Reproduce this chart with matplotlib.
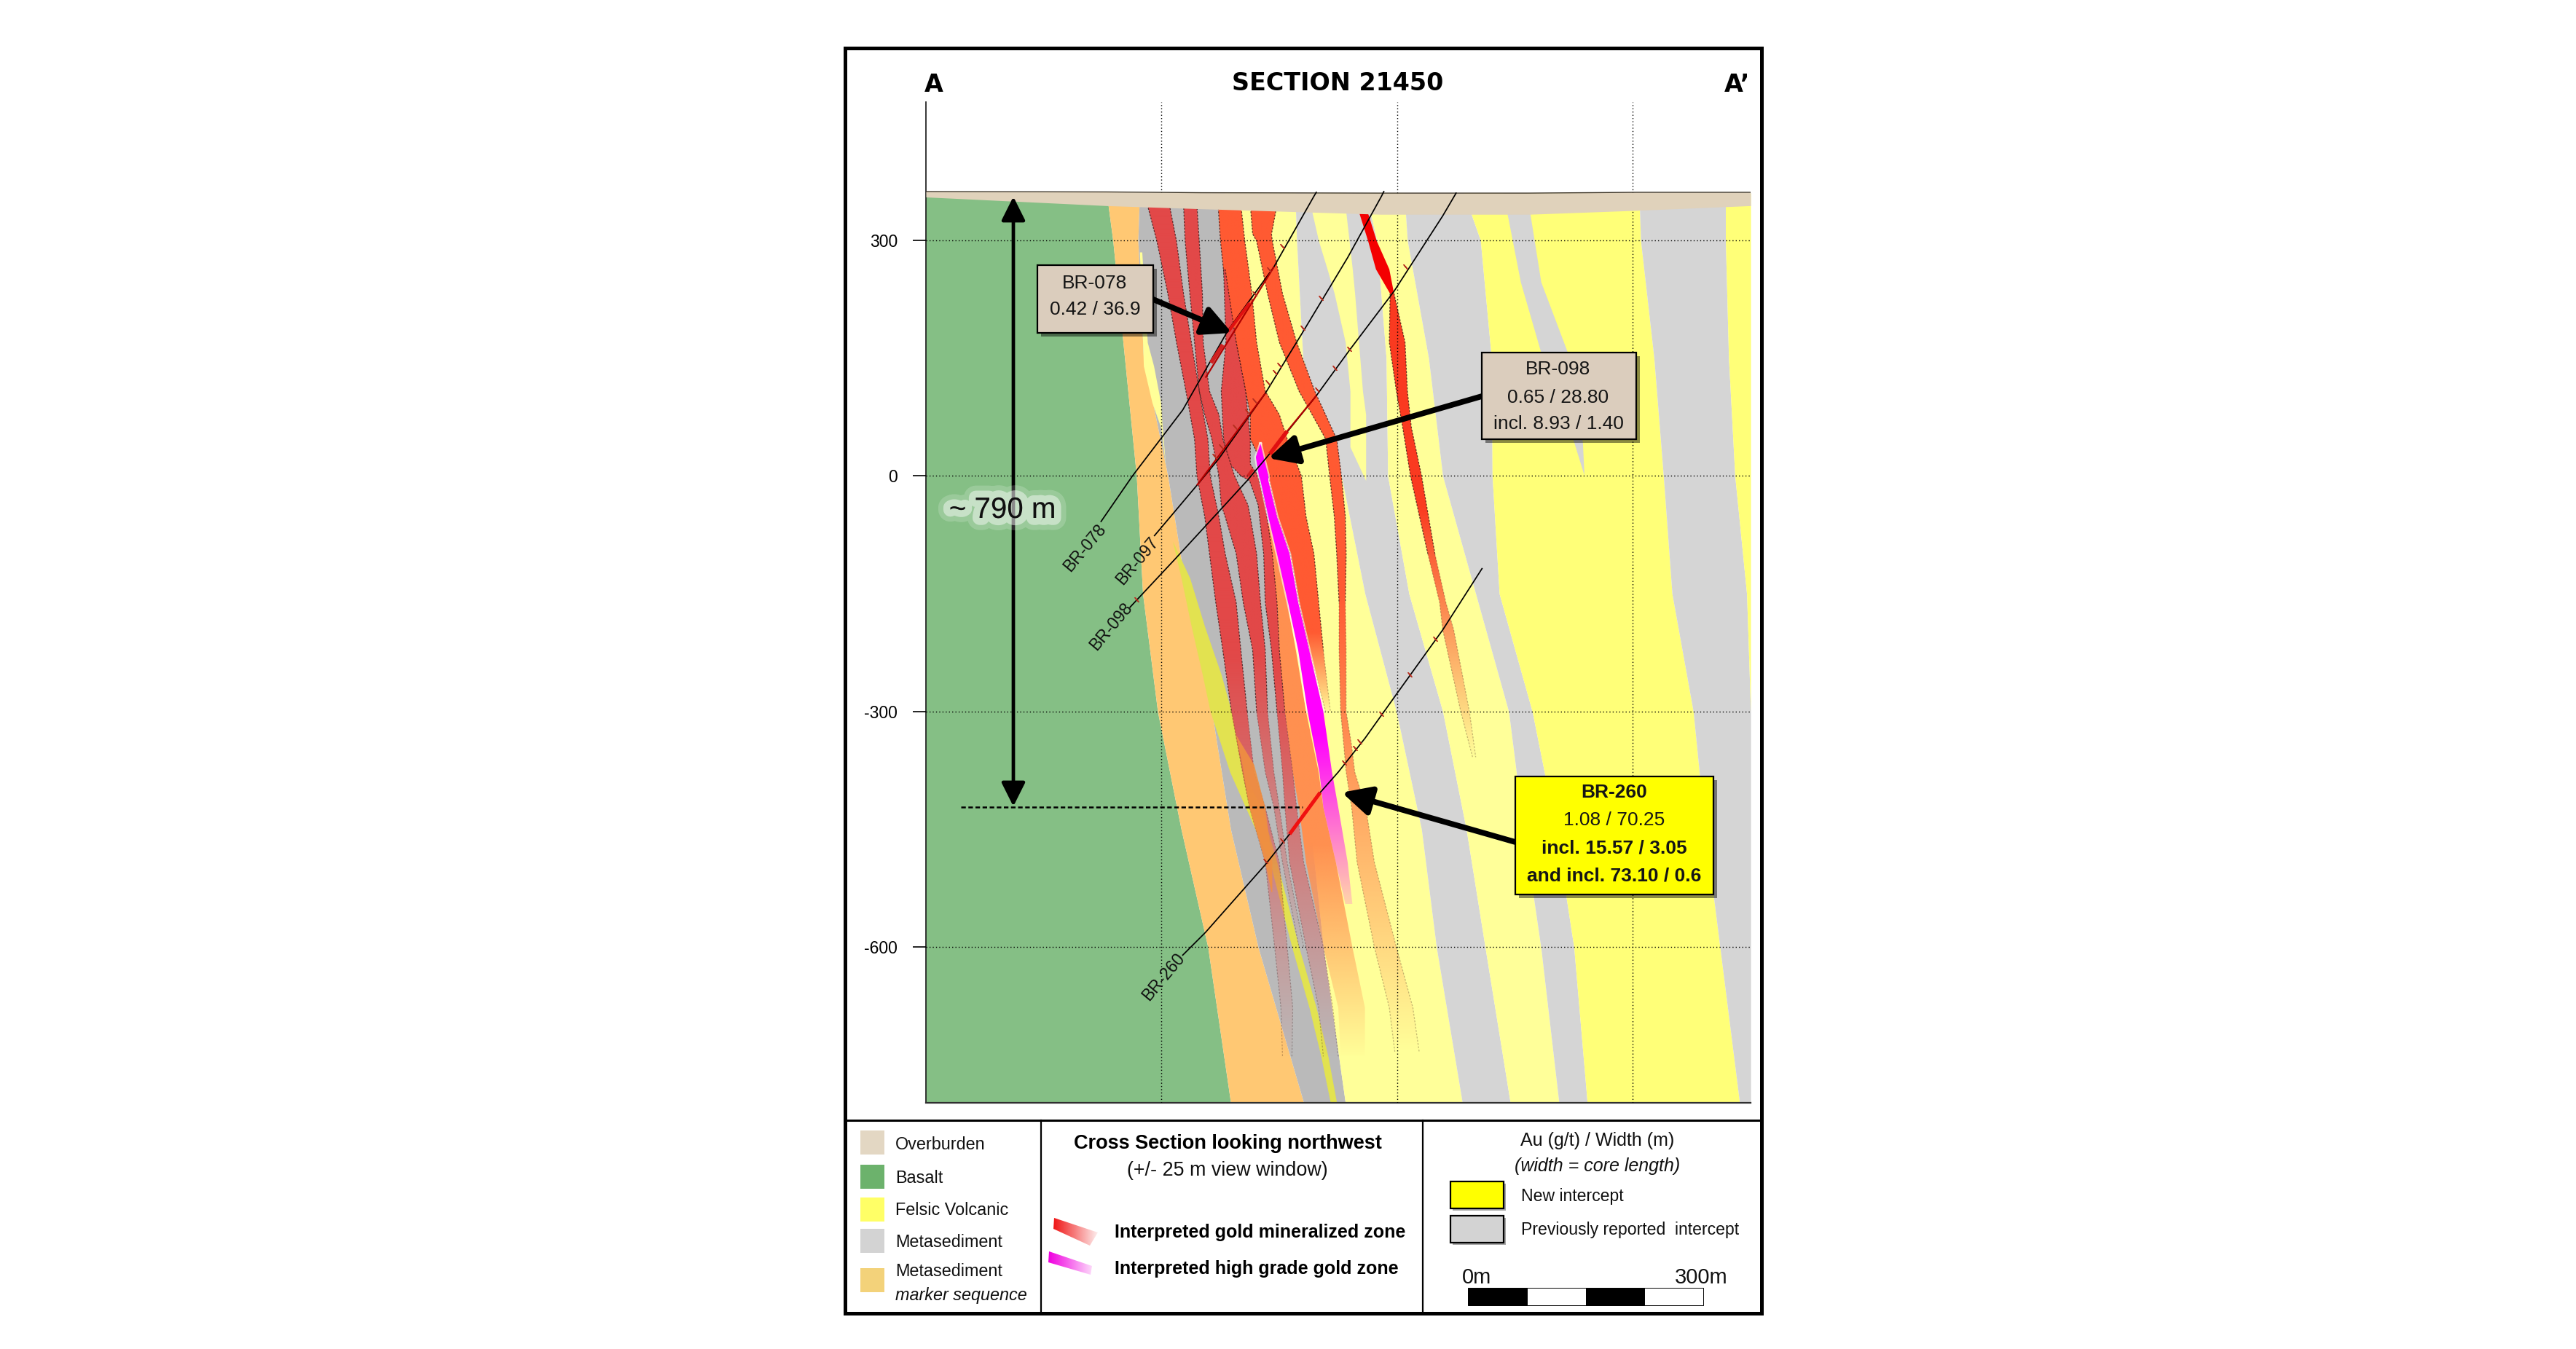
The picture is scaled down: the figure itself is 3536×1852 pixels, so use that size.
#!/usr/bin/env python3
# cross section 21450, geology bands drawn from depth levels, legend panel below
import numpy as np
import matplotlib
matplotlib.use('Agg')
import matplotlib.pyplot as plt
import matplotlib.colors as mcolors
import matplotlib.patheffects as pe
from matplotlib.patches import Polygon, Rectangle

plt.rcParams['font.family'] = ['Liberation Sans', 'DejaVu Sans']

W, H = 3537, 1852

# ---- strata, x (m along section) of each contact at these elevations
levels = [360, 300, 150, 0, -150, -300, -450, -600, -798]
basalt_right = [230, 238, 253, 268, 276, 295, 325, 359, 388]
marker_right = [272, 270, 277, 308, 332, 364, 388, 423, 481]
pale_left = [380, 400, 410, 430, 460, 470, 490, 506, 534]
pale_right = [470, 472, 480, 529, 559, 599, 631, 650, 683]
pale2_left = [560, 574, 586, 588, 615, 658, 688, 712, 744]
pale2_right = [609, 613, 640, 658, 700, 742, 761, 783, 806]
felsic_left = [685, 706, 720, 721, 730, 772, 802, 825, 842]
felsic_right = [908, 910, 927, 939, 950, 977, 992, 1011, 1036]
edge_left = [1018, 1018, 1022, 1030, 1045, 1050, 1050, 1050, 1050]

# small pale strip against the marker sequence
strip_y = [285, 170, 140, 93, 62, 15]
strip_l = [272, 276, 277, 288, 299, 305]
strip_r = [275, 282, 290, 299, 301, 305]

# pale wedge near surface
wedge_y = [360, 334, 299, 263, 232, 170, 108, 78, 37, -6]
wedge_l = [488, 492, 500, 511, 520, 534, 540, 540, 540, 560]
wedge_r = [533, 535, 539, 543, 546, 551, 556, 560, 560, 560]

# metasediment wedge inside the felsic
meta_y = [360, 247, 157, 43, 1]
meta_l = [735, 757, 783, 825, 838]
meta_r = [765, 783, 817, 836, 838]

# olive felsic strip
olive_y = [-83, -130, -192, -253, -300, -377, -422, -492, -600, -677, -739, -798]
olive_l = [314, 325, 338, 352, 362, 387, 407, 438, 466, 488, 503, 515]
olive_r = [314, 336, 355, 376, 389, 404, 427, 447, 475, 497, 512, 523]

# overburden
over_x = [0, 230, 351, 579, 768, 905, 1050]
over_top = [362, 361.5, 360.5, 360, 360, 361, 361]
over_bot = [355, 344, 340, 333, 333, 338, 344]

# ---- mineralized zones
zone_a_y = [345, 299, 232, 170, 108, 47, 0, -52, -99, -161, -222, -300, -377, -422, -492, -600, -677, -739]
zone_a_l = [282, 294, 308, 319, 331, 342, 345, 355, 361, 369, 378, 389, 403, 412, 432, 444, 452, 454]
zone_a_r = [310, 319, 328, 338, 348, 359, 362, 373, 381, 395, 401, 409, 418, 432, 450, 460, 467, 466]

zone_a2_y = [-330, -368, -422, -492, -530]
zone_a2_l = [395, 403, 412, 432, 440]
zone_a2_r = [395, 418, 432, 441, 441]

zone_b_y = [345, 299, 232, 170, 108, 78, 47, 0, -37, -52, -99, -161, -222, -300, -377, -422, -492, -600]
zone_b_l = [328, 330, 336, 342, 348, 355, 364, 373, 376, 381, 395, 404, 416, 421, 432, 443, 454, 475]
zone_b_r = [345, 348, 352, 353, 361, 373, 378, 393, 410, 413, 421, 426, 432, 435, 443, 450, 460, 481]

zone_c_y = [345, 299, 232, 170, 108, 78, 47, 0, -52, -99, -161, -222, -300]
zone_c_l = [372, 375, 382, 395, 407, 413, 413, 436, 447, 464, 475, 488, 509]
zone_c_r = [401, 406, 415, 421, 432, 450, 460, 478, 484, 494, 500, 506, 515]

zone_d_y = [263, 170, 108, 47, 15, 0, -6, -37, -99, -161, -222, -300, -377, -422, -492, -600, -677, -739]
zone_d_l = [379, 382, 376, 379, 387, 401, 412, 423, 430, 432, 440, 447, 454, 457, 463, 484, 500, 506]
zone_d_r = [381, 395, 407, 413, 413, 423, 424, 432, 441, 447, 450, 457, 467, 472, 481, 506, 518, 525]

zone_e_y = [-60, -99, -161, -222, -300, -377, -422, -492, -600, -677, -739]
zone_e_l = [432, 438, 447, 450, 457, 467, 475, 484, 506, 525, 528]
zone_e_r = [438, 450, 460, 471, 484, 500, 506, 522, 543, 559, 559]

zone_f_y = [345, 308, 299, 232, 170, 108, 47, 0, -52, -99, -161, -222, -300, -343, -377, -422, -492, -600, -677, -733]
zone_f_l = [413, 416, 421, 435, 450, 475, 509, 514, 520, 523, 526, 526, 528, 532, 535, 542, 549, 571, 590, 597]
zone_f_r = [447, 440, 441, 454, 472, 495, 523, 529, 534, 535, 534, 535, 535, 542, 546, 560, 571, 599, 620, 628]

zone_g1_y = [334, 299, 263, 232]
zone_g1_l = [552, 563, 573, 591]
zone_g1_r = [563, 574, 590, 596]

zone_g2_y = [232, 170, 108, 62, 0, -99, -161, -196, -300, -358]
zone_g2_l = [591, 590, 599, 607, 617, 639, 654, 658, 681, 696]
zone_g2_r = [596, 610, 613, 618, 631, 648, 662, 672, 692, 700]

zone_m_y = [41, 24, 0, -6, -52, -99, -161, -222, -300, -377, -422, -492, -545]
zone_m_l = [426, 420, 424, 426, 436, 447, 461, 474, 486, 501, 506, 522, 534]
zone_m_r = [426, 430, 436, 436, 447, 463, 474, 488, 506, 517, 525, 537, 543]

# ---- drill holes
br078_x = [497, 494, 443, 385, 327, 263, 223]
br078_y = [361, 356, 266, 186, 84, 0, -58]
br097_x = [583, 580, 537, 478, 432, 373, 345, 291]
br097_y = [362, 356, 278, 180, 105, 22, -12, -76]
br098_x = [675, 658, 596, 540, 497, 435, 409, 376, 318, 260]
br098_y = [360, 331, 235, 161, 102, 25, -6, -42, -105, -167]
br260_x = [708, 658, 599, 559, 525, 502, 463, 432, 356, 327]
br260_y = [-118, -196, -278, -334, -377, -403, -456, -495, -581, -610]

tick_x = [454, 437, 418, 503, 480, 539, 520, 498, 610, 450, 444, 435, 418, 409, 393, 376, 367,
          268, 580, 616, 648, 552, 546, 532, 454, 432]
tick_y = [292, 263, 232, 227, 189, 162, 138, 110, 266, 141, 132, 119, 96, 82, 62, 37, 25,
          -157, -303, -253, -207, -338, -346, -365, -464, -490]

# (x0, y0, x1, y1, colour, width)
intercepts = [
    (443, 266, 356, 125, '#B00000', 1.6),
    (432, 105, 345, -12, '#B00000', 1.6),
    (497, 102, 460, 57, '#B00000', 1.6),
    (412, 220, 385, 184, '#E01010', 3.2),
    (378, 167, 363, 144, '#D02020', 4),
    (460, 57, 438, 28, '#E01010', 4),
    (416, 8, 410, 0, '#D02020', 3),
    (502, -403, 463, -456, '#F01010', 3.6),
]

section_ticks = [300, 0, -300, -600]
section_grid_x = [300, 600, 900]

# ---- legend
legend_names = ['Overburden', 'Basalt', 'Felsic Volcanic', 'Metasediment', 'Metasediment']
legend_cols = ['#E3D7C3', '#6CB26C', '#FFFF66', '#D3D3D3', '#F3D27A']
legend_top = [1552, 1599, 1644, 1687, 1741]
legend_text_y = [1572, 1617, 1661, 1706, 1745]

C_GREEN = '#85BF85'
C_ORANGE = '#FFC873'
C_DGREY = '#BABABA'
C_LGREY = '#D5D5D5'
C_PALE = '#FFFF99'
C_YELLOW = '#FFFF78'
C_RED = '#E24848'
C_ORED = '#FF5A32'


def fade_patch(ax, verts, colour, coord, full, none, alpha_max=1.0, z=3):
    """gradient filled polygon, opaque at coord=full and gone at coord=none"""
    xl, yl = ax.get_xlim(), ax.get_ylim()
    verts = np.array(verts)
    x0, x1 = verts[:, 0].min(), verts[:, 0].max()
    y0, y1 = verts[:, 1].min(), verts[:, 1].max()
    n = 400
    rgba = np.zeros((n, n, 4))
    rgba[..., :3] = mcolors.to_rgb(colour)
    if coord == 'y':
        v = np.linspace(y0, y1, n)[:, None]
    else:
        v = np.linspace(x0, x1, n)[None, :]
    rgba[..., 3] = np.clip((v - none) / (full - none), 0, 1) * alpha_max
    im = ax.imshow(rgba, extent=(x0, x1, y0, y1), origin='lower', aspect='auto',
                   zorder=z, interpolation='bilinear')
    im.set_clip_path(Polygon(verts, closed=True, transform=ax.transData))
    ax.set_xlim(xl)
    ax.set_ylim(yl)


def zone(ax, y, left, right, colour, full=None, none=None, alpha_max=1.0, z=3, outline=True):
    verts = list(zip(left, y)) + list(zip(right[::-1], y[::-1]))
    if full is None:
        ax.add_patch(Polygon(verts, closed=True, fc=colour, ec='none', alpha=alpha_max, zorder=z))
    else:
        fade_patch(ax, verts, colour, 'y', full, none, alpha_max, z)
    if outline:
        # dashes go faint where the fill starts to fade
        k = len(y) if full is None else sum(v >= full for v in y)
        dash = dict(color='#301010', lw=0.9, ls=(0, (2, 1.6)), zorder=z + 0.1)
        for edge in (left, right):
            ax.plot(edge[:k + 1], y[:k + 1], alpha=0.75, **dash)
            if k < len(y):
                ax.plot(edge[k:], y[k:], alpha=0.28, **dash)


fig = plt.figure(figsize=(W / 100, H / 100), dpi=100)
fig.patch.set_facecolor('white')

ax = fig.add_axes([1271 / W, 1 - 1514 / H, 1132 / W, 1374 / H])
ax.set_xlim(0, 1050)
ax.set_ylim(-798, 476)

# strata
ax.fill_betweenx(levels, 0, basalt_right, color=C_GREEN, lw=0, zorder=1)
ax.fill_betweenx(levels, basalt_right, marker_right, color=C_ORANGE, lw=0, zorder=1)
ax.fill_betweenx(levels, marker_right, pale_left, color=C_DGREY, lw=0, zorder=1)
ax.fill_betweenx(levels, pale_left, pale_right, color=C_PALE, lw=0, zorder=1)
ax.fill_betweenx(levels, pale_right, pale2_left, color=C_LGREY, lw=0, zorder=1)
ax.fill_betweenx(levels, pale2_left, pale2_right, color=C_PALE, lw=0, zorder=1)
ax.fill_betweenx(levels, pale2_right, felsic_left, color=C_LGREY, lw=0, zorder=1)
ax.fill_betweenx(levels, felsic_left, felsic_right, color=C_YELLOW, lw=0, zorder=1)
ax.fill_betweenx(levels, felsic_right, edge_left, color=C_LGREY, lw=0, zorder=1)
ax.fill_betweenx(levels, edge_left, 1050, color=C_YELLOW, lw=0, zorder=1)
ax.fill_betweenx(strip_y, strip_l, strip_r, color=C_PALE, lw=0, zorder=1.2)
ax.fill_betweenx(wedge_y, wedge_l, wedge_r, color=C_PALE, lw=0, zorder=1.2)
ax.fill_betweenx(meta_y, meta_l, meta_r, color=C_LGREY, lw=0, zorder=1.2)
ax.fill_betweenx(olive_y, olive_l, olive_r, color='#E2E250', lw=0, zorder=1.3)

# mineralized zones
zone(ax, zone_e_y, zone_e_l, zone_e_r, '#FF9050', -470, -742, z=2.0, outline=False)
zone(ax, zone_f_y, zone_f_l, zone_f_r, C_ORED, -150, -735, z=2.2)
zone(ax, zone_g1_y, zone_g1_l, zone_g1_r, '#F40000', z=2.3, outline=False)
zone(ax, zone_g2_y, zone_g2_l, zone_g2_r, '#FA3A20', -40, -362, z=2.3)
zone(ax, zone_c_y, zone_c_l, zone_c_r, C_ORED, -200, -305, z=2.4)
zone(ax, zone_d_y, zone_d_l, zone_d_r, C_RED, -250, -742, z=2.5)
zone(ax, zone_a_y, zone_a_l, zone_a_r, C_RED, -230, -742, z=2.6)
zone(ax, zone_b_y, zone_b_l, zone_b_r, C_RED, -230, -602, z=2.6)
zone(ax, zone_a2_y, zone_a2_l, zone_a2_r, '#F09040', alpha_max=0.9, z=2.7, outline=False)
ax.plot(zone_m_l[:9], zone_m_y[:9], color='white', lw=3, alpha=0.6, zorder=2.75)
ax.plot(zone_m_r[:9], zone_m_y[:9], color='white', lw=3, alpha=0.6, zorder=2.75)
zone(ax, zone_m_y, zone_m_l, zone_m_r, '#FF00FF', -330, -590, z=2.8, outline=False)

# overburden on top of everything geological
ax.fill_between(over_x, over_bot, over_top, color='#E0D2BB', lw=0, zorder=3.2)
ax.plot(over_x, over_top, color='#40382A', lw=1.0, zorder=3.3)

# grid + axis
ax.set_xticks(section_grid_x)
ax.set_yticks(section_ticks)
ax.set_yticklabels([str(t) for t in section_ticks], fontsize=16.5)
ax.tick_params(axis='x', length=0, labelbottom=False)
ax.tick_params(axis='y', length=13, width=1.2, pad=15)
ax.grid(True, color='black', lw=1.0, ls=(0, (1, 2.2)), zorder=3.5)
ax.set_axisbelow(False)
for s in ['top', 'right']:
    ax.spines[s].set_visible(False)
ax.spines['left'].set_linewidth(1.1)
ax.spines['bottom'].set_linewidth(1.6)
ax.spines['bottom'].set_color('#303030')

# drill holes
for hx, hy in [(br078_x, br078_y), (br097_x, br097_y), (br098_x, br098_y), (br260_x, br260_y)]:
    ax.plot(hx, hy, color='black', lw=1.25, zorder=4)
for x0, y0, x1, y1, col, lw in intercepts:
    ax.plot([x0, x1], [y0, y1], color=col, lw=lw, zorder=4.1, solid_capstyle='butt')
ax.scatter(tick_x, tick_y, marker=(2, 2, 40), s=28, color='#B83020', linewidths=1.1, zorder=4.2)

# ---- overlay in picture pixels for frame, labels, callouts and legend
ov = fig.add_axes([0, 0, 1, 1], zorder=5)
ov.set_xlim(0, W)
ov.set_ylim(H, 0)
ov.axis('off')
ov.patch.set_alpha(0)

ov.add_patch(Rectangle((1160, 66), 1258, 1737, fc='none', ec='black', lw=3.6, zorder=10))
ov.plot([1160, 2418], [1538, 1538], color='black', lw=2.2, zorder=10)
ov.plot([1429, 1429], [1538, 1803], color='black', lw=1.6, zorder=10)
ov.plot([1953, 1953], [1538, 1803], color='black', lw=1.6, zorder=10)

ov.text(1282, 116, 'A', family='DejaVu Sans', weight='bold', fontsize=24, ha='center', va='center')
ov.text(1836, 115, 'SECTION 21450', family='DejaVu Sans', weight='bold', fontsize=24, ha='center', va='center')
ov.text(2385, 116, 'A\u2019', family='DejaVu Sans', weight='bold', fontsize=24, ha='center', va='center')

# hole labels
for txt, x, y in [('BR-078', 1489, 752), ('BR-097', 1561, 770), ('BR-098', 1525, 860), ('BR-260', 1597, 1341)]:
    ov.text(x, y, txt, fontsize=16.5, rotation=50, ha='center', va='center', color='#101010')

# 790 m arrow
ov.annotate('', xy=(1391, 270), xytext=(1391, 1107),
            arrowprops=dict(arrowstyle='<|-|>,head_length=1.0,head_width=0.5', mutation_scale=20,
                            lw=3.4, color='black', shrinkA=0, shrinkB=0))
ov.plot([1319, 1788], [1108, 1108], color='black', lw=1.8, ls=(0, (2.5, 1.4)))
ov.text(1376, 700, '~ 790 m', fontsize=29, ha='center', va='center', color='#101010',
        path_effects=[pe.withStroke(linewidth=24, foreground='white', alpha=0.18),
                      pe.withStroke(linewidth=14, foreground='white', alpha=0.45)])


def callout(x0, y0, x1, y1, fc, lines, cx, ys, weights):
    ov.add_patch(Rectangle((x0 + 5, y0 + 5), x1 - x0, y1 - y0, fc='black', ec='none', alpha=0.45, zorder=6))
    ov.add_patch(Rectangle((x0, y0), x1 - x0, y1 - y0, fc=fc, ec='black', lw=1.6, zorder=7))
    for line, y, w in zip(lines, ys, weights):
        ov.text(cx, y, line, fontsize=19, ha='center', va='center', weight=w, color='#151515', zorder=8)


def arrow(start, tip):
    ov.annotate('', xy=tip, xytext=start, zorder=5.5,
                arrowprops=dict(arrowstyle='-|>,head_length=1.2,head_width=0.6', mutation_scale=20,
                                lw=5.6, color='black', shrinkA=0, shrinkB=0))


arrow((1583, 411), (1691, 457))
arrow((2034, 544), (1741, 629))
arrow((2080, 1156), (1842, 1088))
callout(1424, 364, 1583, 457, '#DBCDBD', ['BR-078', '0.42 / 36.9'], 1503, [389, 425], ['normal', 'normal'])
callout(2034, 484, 2246, 603, '#DBCDBD', ['BR-098', '0.65 / 28.80', 'incl. 8.93 / 1.40'], 2139,
        [507, 546, 582], ['normal'] * 3)
callout(2080, 1066, 2352, 1228, '#FFFF00',
        ['BR-260', '1.08 / 70.25', 'incl. 15.57 / 3.05', 'and incl. 73.10 / 0.6'], 2216,
        [1088, 1126, 1165, 1202], ['bold', 'normal', 'bold', 'bold'])

# ---- legend left
for name, col, top, ty in zip(legend_names, legend_cols, legend_top, legend_text_y):
    ov.add_patch(Rectangle((1181, top), 33, 33, fc=col, ec='none'))
    ov.text(1229, ty, name, fontsize=16.8, va='center', ha='left', color='#101010')
ov.text(1229, 1779, 'marker sequence', fontsize=16.8, style='italic', va='center', ha='left', color='#101010')

# ---- legend centre
ov.text(1685, 1570, 'Cross Section looking northwest', fontsize=19.5, weight='bold', ha='center', va='center')
ov.text(1685, 1607, '(+/- 25 m view window)', fontsize=19.4, ha='center', va='center', color='#101010')
fade_patch(ov, [(1447, 1672), (1507, 1692), (1496, 1710), (1446, 1687)], '#F01818', 'x', 1447, 1512, z=4)
fade_patch(ov, [(1440, 1718), (1499, 1738), (1497, 1750), (1439, 1733)], '#F000E0', 'x', 1440, 1510, z=4)
ov.text(1530, 1692, 'Interpreted gold mineralized zone', fontsize=18, weight='bold', va='center', ha='left')
ov.text(1530, 1742, 'Interpreted high grade gold zone', fontsize=18, weight='bold', va='center', ha='left')

# ---- legend right
ov.text(2193, 1566, 'Au (g/t) / Width (m)', fontsize=18, ha='center', va='center', color='#101010')
ov.text(2193, 1601, '(width = core length)', fontsize=18, style='italic', ha='center', va='center', color='#101010')
for top, col, txt, ty in [(1622, '#FFFF00', 'New intercept', 1642), (1669, '#D3D3D3', 'Previously reported  intercept', 1688)]:
    ov.add_patch(Rectangle((1994, top + 3), 73, 37, fc='black', ec='none', alpha=0.35))
    ov.add_patch(Rectangle((1991, top), 73, 37, fc=col, ec='black', lw=1.6))
    ov.text(2088, ty, txt, fontsize=16.6, va='center', ha='left', color='#101010')

ov.text(2027, 1754, '0m', fontsize=21, ha='center', va='center', color='#101010')
ov.text(2335, 1754, '300m', fontsize=21, ha='center', va='center', color='#101010')
for i, col in enumerate(['black', 'white', 'black', 'white']):
    ov.add_patch(Rectangle((2015.5 + i * 80.6, 1768), 80.6, 24, fc=col, ec='black', lw=0.7))

fig.savefig('out.png', dpi=100, facecolor='white')
